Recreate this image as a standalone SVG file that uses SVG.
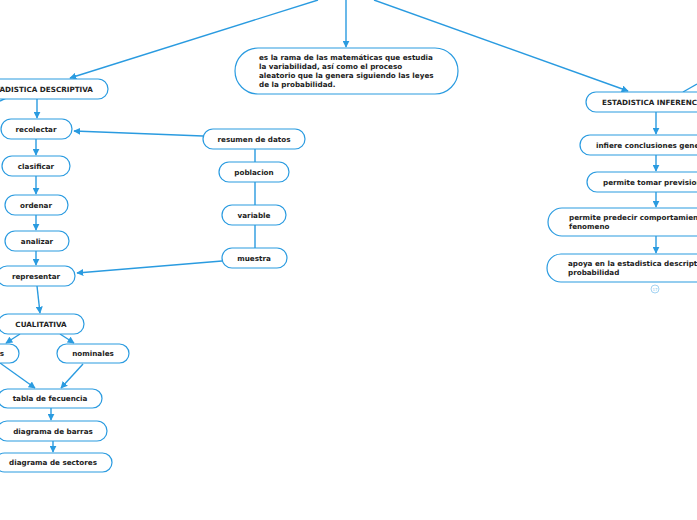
<svg xmlns="http://www.w3.org/2000/svg" width="697" height="520" viewBox="0 0 697 520">
<style>
.n rect{fill:#fff;stroke:#2a9be0;stroke-width:1.2}
text{font-family:"DejaVu Sans",sans-serif;font-weight:bold;font-size:7.2px;fill:#222}
.c{text-anchor:middle}
.e path{fill:none;stroke:#2a9be0;stroke-width:1.4}
</style>
<defs><marker id="a" viewBox="0 0 10 10" refX="9" refY="5" markerWidth="5" markerHeight="5" orient="auto"><path d="M0,0L10,5L0,10z" fill="#2a9be0"/></marker></defs>
<rect width="697" height="520" fill="#fff"/>
<g class="e">
<path d="M346,0V47" marker-end="url(#a)"/>
<path d="M318,0L70,78" marker-end="url(#a)"/>
<path d="M374,0L628,91" marker-end="url(#a)"/>
<path d="M697,84L683,92"/>
<path d="M8,97L0,101"/>
<path d="M37,99V118" marker-end="url(#a)"/>
<path d="M36,139V155" marker-end="url(#a)"/>
<path d="M36,176V194" marker-end="url(#a)"/>
<path d="M36,215V230" marker-end="url(#a)"/>
<path d="M36,251V265" marker-end="url(#a)"/>
<path d="M37,286L40,313" marker-end="url(#a)"/>
<path d="M203,136L74,131" marker-end="url(#a)"/>
<path d="M222,261L77,273" marker-end="url(#a)"/>
<path d="M255,149V162M255,182V205M255,225V248"/>
<path d="M20,334L6,343" marker-end="url(#a)"/>
<path d="M60,334L74,343" marker-end="url(#a)"/>
<path d="M0,363L35,388" marker-end="url(#a)"/>
<path d="M83,364L61,388" marker-end="url(#a)"/>
<path d="M51,408V420" marker-end="url(#a)"/>
<path d="M53,441V452" marker-end="url(#a)"/>
<path d="M656,112V134" marker-end="url(#a)"/>
<path d="M656,155V171" marker-end="url(#a)"/>
<path d="M656,192V207" marker-end="url(#a)"/>
<path d="M656,236V253" marker-end="url(#a)"/>
</g>
<g id="main" class="n"><rect x="235" y="48" width="223" height="46" rx="23"/><text x="259" y="60">es la rama de las matemáticas que estudia</text><text x="259" y="69">la variabilidad, así como el proceso</text><text x="259" y="78">aleatorio que la genera siguiendo las leyes</text><text x="259" y="87">de la probabilidad.</text></g>
<g id="desc" class="n"><rect x="-25" y="79" width="133" height="20" rx="10"/><text class="c" x="39" y="92">ESTADISTICA DESCRIPTIVA</text></g>
<g id="recolectar" class="n"><rect x="1" y="119" width="71" height="20" rx="10"/><text class="c" x="36" y="132">recolectar</text></g>
<g id="clasificar" class="n"><rect x="2" y="156" width="68" height="20" rx="10"/><text class="c" x="36" y="169">clasificar</text></g>
<g id="ordenar" class="n"><rect x="5" y="195" width="63" height="20" rx="10"/><text class="c" x="36" y="208">ordenar</text></g>
<g id="analizar" class="n"><rect x="5" y="231" width="64" height="20" rx="10"/><text class="c" x="37" y="244">analizar</text></g>
<g id="representar" class="n"><rect x="-3" y="266" width="78" height="20" rx="10"/><text class="c" x="36" y="279">representar</text></g>
<g id="resumen" class="n"><rect x="203" y="129" width="102" height="20" rx="10"/><text class="c" x="254" y="142">resumen de datos</text></g>
<g id="poblacion" class="n"><rect x="219" y="162" width="70" height="20" rx="10"/><text class="c" x="254" y="175">poblacion</text></g>
<g id="variable" class="n"><rect x="222" y="205" width="64" height="20" rx="10"/><text class="c" x="254" y="218">variable</text></g>
<g id="muestra" class="n"><rect x="222" y="248" width="65" height="20" rx="10"/><text class="c" x="254" y="261">muestra</text></g>
<g id="cualitativa" class="n"><rect x="-2" y="314" width="86" height="20" rx="10"/><text class="c" x="41" y="327">CUALITATIVA</text></g>
<g id="ordinales" class="n"><rect x="-60" y="344" width="79" height="19" rx="9.5"/><text x="4" y="356" text-anchor="end">ordinales</text></g>
<g id="nominales" class="n"><rect x="57" y="344" width="72" height="19" rx="9.5"/><text class="c" x="93" y="356">nominales</text></g>
<g id="tabla" class="n"><rect x="-2" y="389" width="104" height="19" rx="9.5"/><text class="c" x="50" y="401">tabla de fecuencia</text></g>
<g id="barras" class="n"><rect x="-3" y="421" width="110" height="20" rx="10"/><text class="c" x="53" y="434">diagrama de barras</text></g>
<g id="sectores" class="n"><rect x="-5" y="453" width="117" height="19" rx="9.5"/><text class="c" x="53" y="465">diagrama de sectores</text></g>
<g id="inferencial" class="n"><rect x="586" y="92" width="180" height="20" rx="10"/><text x="602" y="105">ESTADISTICA INFERENCIAL</text></g>
<g id="infiere" class="n"><rect x="580" y="135" width="186" height="20" rx="10"/><text x="596" y="148">infiere conclusiones generales</text></g>
<g id="previsiones" class="n"><rect x="587" y="172" width="179" height="20" rx="10"/><text x="603" y="185">permite tomar previsiones</text></g>
<g id="predecir" class="n"><rect x="548" y="208" width="218" height="28" rx="14"/><text x="569" y="220">permite predecir comportamientos del</text><text x="569" y="229">fenomeno</text></g>
<g id="apoya" class="n"><rect x="547" y="254" width="219" height="28" rx="14"/><text x="568" y="266">apoya en la estadistica descriptiva y</text><text x="568" y="275">probabilidad</text></g>
<g id="badge"><circle cx="655" cy="289" r="4" fill="#fff" stroke="#8cc8ef" stroke-width="0.8"/><text class="c" x="655" y="291" style="font-size:4px;fill:#8cc8ef;font-weight:normal">17</text></g>
</svg>
